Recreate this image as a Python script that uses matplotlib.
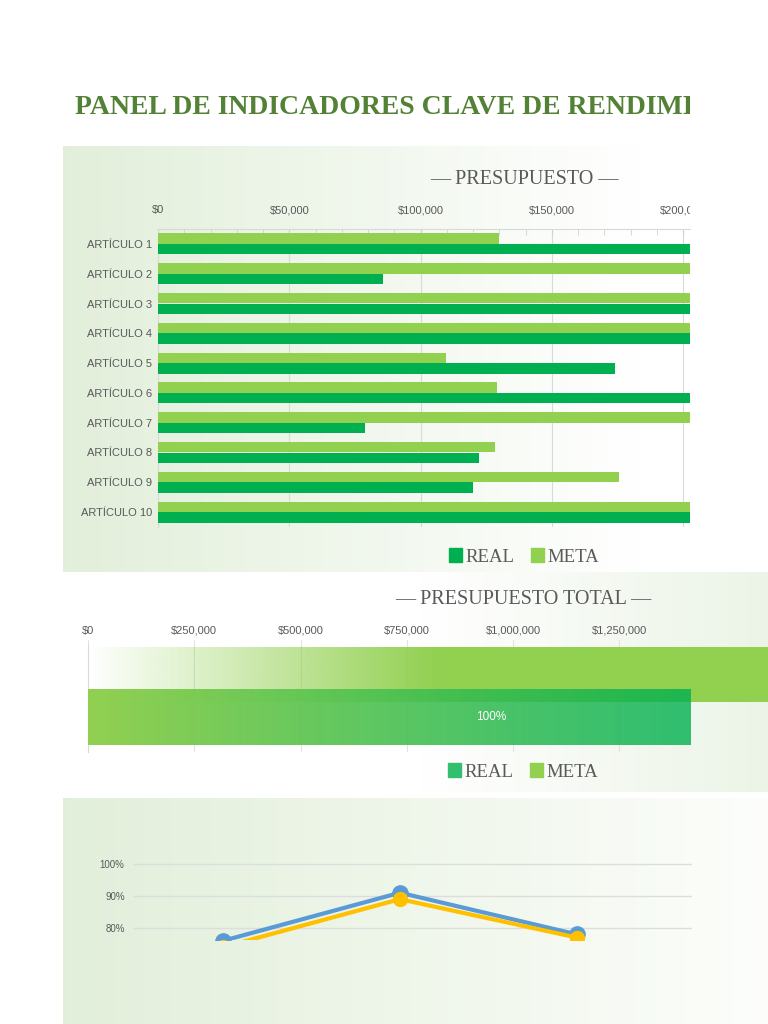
import numpy as np
import matplotlib
matplotlib.use("Agg")
import matplotlib.pyplot as plt
from matplotlib.patches import Patch
from matplotlib.ticker import FuncFormatter, MultipleLocator
from matplotlib.transforms import Bbox, TransformedBbox

W, H = 768, 1024

# --- data -------------------------------------------------------------
articulos = [f"ARTÍCULO {i}" for i in range(1, 11)]
meta = [130000, 215000, 215000, 215000, 109500, 129000, 215000, 128300, 175700, 215000]
real = [215000, 85500, 215000, 215000, 174200, 215000, 78900, 122200, 119800, 215000]

total_real = 1417000
total_meta = 1800000
total_pct = "100%"

serie_azul = [0.76, 0.91, 0.78]
serie_amarilla = [0.74, 0.89, 0.77]

# --- colours / fonts ---------------------------------------------------
VERDE = "#00B050"
VERDE_CLARO = "#92D050"
GRIS = "#595959"
SERIF = "Liberation Serif"
SANS = "Liberation Sans"

plt.rcParams["font.family"] = [SANS, "DejaVu Sans"]

fig = plt.figure(figsize=(W / 100, H / 100), dpi=100)
fig.patch.set_facecolor("white")


def px_axes(x0, y0, x1, y1, **kw):
    # pixel box (top-left origin) -> figure axes
    return fig.add_axes([x0 / W, 1 - y1 / H, (x1 - x0) / W, (y1 - y0) / H], **kw)


def money(v, pos=None):
    return f"${v:,.0f}"


clip_690 = TransformedBbox(Bbox.from_extents(0, 0, 690 / W, 1), fig.transFigure)

# --- background panels -----------------------------------------------
bg = px_axes(0, 0, W, H, zorder=-10)
bg.axis("off")


def hgrad(x0, x1, y0, y1, stops, cols):
    xs = np.linspace(x0, x1, 400)
    cols = np.array(cols)
    img = np.stack([np.interp(xs, stops, cols[:, k]) for k in range(3)], axis=-1)
    bg.imshow(img[None, :, :], extent=[x0, x1, y1, y0], aspect="auto",
              interpolation="bilinear", zorder=0)


hgrad(63, W, 146, 572, [63, 640, W],
      [(0.886, 0.937, 0.855), (1, 1, 1), (1, 1, 1)])
hgrad(63, W, 572, 792, [63, 420, W],
      [(1, 1, 1), (1, 1, 1), (0.925, 0.957, 0.905)])
hgrad(63, W, 798, H, [63, W],
      [(0.886, 0.937, 0.855), (0.99, 0.995, 0.985)])
bg.set_xlim(0, W)
bg.set_ylim(H, 0)

t = bg.text(75, 107, "PANEL DE INDICADORES CLAVE DE RENDIMIENTO", fontsize=20,
            fontweight="bold", family=SERIF, color="#538135", va="center")
t.set_clip_box(clip_690)
t.set_clip_on(True)

# --- chart 1: PRESUPUESTO ---------------------------------------------
fig.text(524 / W, 1 - 179 / H, "— PRESUPUESTO —", ha="center", va="center",
         fontsize=14.5, family=SERIF, color=GRIS)

ax1 = px_axes(158, 229, 690, 527)
ax1.patch.set_alpha(0)
y = np.arange(len(articulos))
ax1.barh(y - 0.175, meta, height=0.35, color=VERDE_CLARO, zorder=3)
ax1.barh(y + 0.175, real, height=0.35, color=VERDE, zorder=3)
ax1.set_ylim(len(articulos) - 0.5, -0.5)
ax1.set_xlim(0, 202600)
ax1.xaxis.tick_top()
ax1.xaxis.set_major_locator(MultipleLocator(50000))
ax1.xaxis.set_minor_locator(MultipleLocator(10000))
ax1.xaxis.set_major_formatter(FuncFormatter(money))
ax1.tick_params(axis="x", which="both", direction="in", color="#D0D0D0",
                labelcolor=GRIS, labelsize=8, pad=10, length=4)
ax1.set_yticks(y, articulos)
ax1.tick_params(axis="y", length=0, labelsize=8, labelcolor=GRIS, pad=4)
ax1.grid(axis="x", color="#D9D9D9", lw=0.8)
ax1.set_axisbelow(True)
for s in ["right", "bottom"]:
    ax1.spines[s].set_visible(False)
for s in ["top", "left"]:
    ax1.spines[s].set_color("#D9D9D9")
for lbl in ax1.get_xticklabels():
    lbl.set_clip_box(clip_690)
    lbl.set_clip_on(True)

ax1.legend(handles=[Patch(color=VERDE, label="REAL"), Patch(color=VERDE_CLARO, label="META")],
           ncol=2, loc="center", bbox_to_anchor=(524 / W, 1 - 557 / H),
           bbox_transform=fig.transFigure, frameon=False,
           prop={"family": SERIF, "size": 13.5}, labelcolor=GRIS,
           handlelength=0.7, handleheight=0.7, handletextpad=0.15, columnspacing=0.9)

# --- chart 2: PRESUPUESTO TOTAL ----------------------------------------
fig.text(523 / W, 1 - 600 / H, "— PRESUPUESTO TOTAL —", ha="center", va="center",
         fontsize=14.5, family=SERIF, color=GRIS)

ax2 = px_axes(88, 640, W, 752)
ax2.patch.set_alpha(0)
bh = 1.3
bar_meta = ax2.barh(1, total_meta, height=bh, color="none", zorder=2)[0]
bar_real = ax2.barh(0, total_real, height=bh, color="none", zorder=3)[0]

n = 256
tm = np.linspace(0, 1, n)
g_meta = np.zeros((1, n, 4))
g_meta[..., :3] = matplotlib.colors.to_rgb(VERDE_CLARO)
g_meta[..., 3] = np.clip(tm * total_meta / 820000, 0, 1)
im = ax2.imshow(g_meta, extent=[0, total_meta, 1 - bh / 2, 1 + bh / 2],
                aspect="auto", interpolation="bilinear", zorder=2)
im.set_clip_path(bar_meta)

c0 = np.array(matplotlib.colors.to_rgb(VERDE_CLARO) + (1.0,))
c1 = np.array(matplotlib.colors.to_rgb(VERDE) + (0.8,))
g_real = (c0[None, :] * (1 - tm[:, None]) + c1[None, :] * tm[:, None])[None, :, :]
im2 = ax2.imshow(g_real, extent=[0, total_real, -bh / 2, bh / 2],
                 aspect="auto", interpolation="bilinear", zorder=3)
im2.set_clip_path(bar_real)

ax2.text(total_real * 0.67, 0, total_pct, color="white", ha="center", va="center",
         fontsize=8.5, zorder=5)

ax2.set_xlim(0, 1600000)
ax2.set_ylim(-0.824, 1.812)
ax2.xaxis.tick_top()
ax2.set_xticks(np.arange(0, 1250001, 250000))
ax2.xaxis.set_major_formatter(FuncFormatter(money))
ax2.tick_params(axis="x", length=0, labelcolor=GRIS, labelsize=8, pad=3)
ax2.set_yticks([])
ax2.grid(axis="x", color="#E3E3E3", lw=0.8)
ax2.set_axisbelow(True)
for s in ["top", "right", "bottom"]:
    ax2.spines[s].set_visible(False)
ax2.spines["left"].set_color("#D9D9D9")
ax2.spines["left"].set_bounds(-0.824, 1.7)

ax2.legend(handles=[Patch(color="#33BF70", label="REAL"), Patch(color=VERDE_CLARO, label="META")],
           ncol=2, loc="center", bbox_to_anchor=(523 / W, 1 - 772 / H),
           bbox_transform=fig.transFigure, frameon=False,
           prop={"family": SERIF, "size": 13.5}, labelcolor=GRIS,
           handlelength=0.7, handleheight=0.7, handletextpad=0.15, columnspacing=0.9)

# --- chart 3: lines ----------------------------------------------------
ax3 = px_axes(133, 845, 692, 940)
ax3.patch.set_alpha(0)
xs = np.arange(len(serie_azul))
ax3.plot(xs, serie_azul, color="#5B9BD5", lw=3, marker="o", ms=11, zorder=3)
ax3.plot(xs, serie_amarilla, color="#FFC000", lw=3, marker="o", ms=10, zorder=4)
ax3.set_xlim(-0.508, 2.65)
ax3.set_ylim(0.7625, 1.059)
ax3.set_yticks([0.8, 0.9, 1.0])
ax3.yaxis.set_major_formatter(FuncFormatter(lambda v, p: f"{v:.0%}"))
ax3.tick_params(axis="y", length=0, labelcolor=GRIS, labelsize=7, pad=6)
ax3.set_xticks([])
ax3.grid(axis="y", color="#DDDDDD", lw=1)
ax3.set_axisbelow(True)
for s in ax3.spines.values():
    s.set_visible(False)

fig.savefig("out.png", dpi=100)
